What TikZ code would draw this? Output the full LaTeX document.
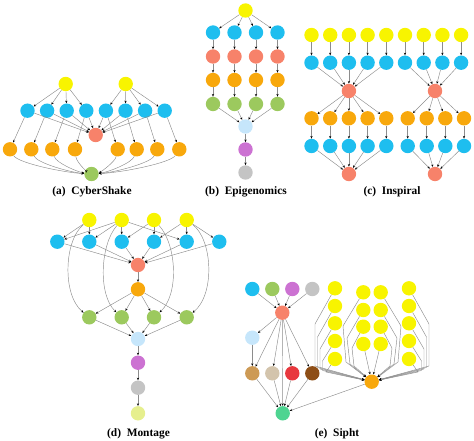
\documentclass[tikz,border=0pt]{standalone}
\usepackage{fontspec}
\setmainfont{Liberation Serif}
\usetikzlibrary{arrows.meta}
\definecolor{cY}{HTML}{F8F400}
\definecolor{cB}{HTML}{1EBEEF}
\definecolor{cR}{HTML}{F7826A}
\definecolor{cO}{HTML}{F8A80C}
\definecolor{cG}{HTML}{9CC95E}
\definecolor{cL}{HTML}{C6E6FB}
\definecolor{cP}{HTML}{CC72D2}
\definecolor{cS}{HTML}{C4C4C4}
\definecolor{cW}{HTML}{E6EF8E}
\definecolor{cT}{HTML}{CD9A55}
\definecolor{cE}{HTML}{D3C4AC}
\definecolor{cX}{HTML}{E8383E}
\definecolor{cN}{HTML}{8E4E16}
\definecolor{cQ}{HTML}{4ED491}
\definecolor{edgec}{HTML}{8C8C8C}
\tikzset{
  nd/.style={circle,inner sep=0pt,minimum size=14.4pt,draw=none},
  ny/.style={nd,fill=cY}, nb/.style={nd,fill=cB}, nr/.style={nd,fill=cR},
  no/.style={nd,fill=cO}, ng/.style={nd,fill=cG}, nl/.style={nd,fill=cL},
  np/.style={nd,fill=cP}, ns/.style={nd,fill=cS}, nw/.style={nd,fill=cW},
  nt/.style={nd,fill=cT}, ne/.style={nd,fill=cE}, nx/.style={nd,fill=cX},
  nn/.style={nd,fill=cN}, nq/.style={nd,fill=cQ},
  ed/.style={draw=edgec,line width=0.45pt,-{Stealth[length=2.6pt,width=2.2pt,color=black]}},
  captext/.style={font=\bfseries\fontsize{11.4}{13}\selectfont,inner sep=0pt}
}
\begin{document}
\begin{tikzpicture}[x=1pt,y=-1pt]
\useasboundingbox (0,0) rectangle (474,441);
% ---------------- (a) CyberShake
\node[ny] (a-y1) at (65.7,84) {};
\node[ny] (a-y2) at (125.7,84) {};
\foreach \i/\x in {1/27.5,2/47.1,3/66.7,4/86.3,5/105.9,6/125.5,7/145.1,8/164.7}
  \node[nb] (a-b\i) at (\x,110.7) {};
\node[nr] (a-r) at (95.7,135) {};
\foreach \i/\x in {1/10,2/31.3,3/52.3,4/75,5/117.7,6/136.7,7/157.3,8/179.3}
  \node[no] (a-o\i) at (\x,149.3) {};
\node[ng] (a-g) at (91.5,174) {};
\foreach \i in {1,...,4} \draw[ed] (a-y1) -- (a-b\i);
\foreach \i in {5,...,8} \draw[ed] (a-y2) -- (a-b\i);
\foreach \i in {1,...,8} {
  \draw[ed] (a-b\i) -- (a-r);
  \draw[ed] (a-b\i) -- (a-o\i);
}
\foreach \i/\ca/\cb/\da/\db in {1/18/163/63/172.5,2/37/163/70.5/172.5,3/56/163/78/172,4/76.5/162/86/171,
  5/115/162/100.7/172,6/132/163/107.3/172.5,7/150.7/163/114.5/172.5,8/170.5/163/122.2/172.5}
  \draw[ed] (a-o\i) .. controls (\ca,\cb) and (\da,\db) .. (a-g);
\node[captext] (a-cap) at (92,192) {(a)\hspace{0.5em}CyberShake};
% ---------------- (b) Epigenomics
\node[ny] (b-y) at (245.5,10.5) {};
\foreach \i/\x in {1/213,2/234.5,3/256,4/277.5} {
  \node[nb] (b-b\i) at (\x,32.5) {};
  \node[nr] (b-r\i) at (\x,56.5) {};
  \node[no] (b-o\i) at (\x,80) {};
  \node[ng] (b-g\i) at (\x,104) {};
}
\node[nl] (b-l) at (245.5,126.5) {};
\node[np] (b-p) at (245.5,149.5) {};
\node[ns] (b-s) at (245.5,172.5) {};
\foreach \i in {1,...,4} {
  \draw[ed] (b-y) -- (b-b\i);
  \draw[ed] (b-b\i) -- (b-r\i);
  \draw[ed] (b-r\i) -- (b-o\i);
  \draw[ed] (b-o\i) -- (b-g\i);
  \draw[ed] (b-g\i) -- (b-l);
}
\draw[ed] (b-l) -- (b-p);
\draw[ed] (b-p) -- (b-s);
\node[captext] (b-cap) at (246,192) {(b)\hspace{0.5em}Epigenomics};
% ---------------- (c) Inspiral
\foreach \i/\x in {1/311.5,2/330.2,3/348.9,4/367.6,5/386.3,6/405,7/423.7,8/442.4,9/461.1} {
  \node[ny] (c-y\i) at (\x,35) {};
  \node[nb] (c-b\i) at (\x,62.7) {};
  \draw[ed] (c-y\i) -- (c-b\i);
}
\node[nr] (c-r1) at (348.9,91) {};
\node[nr] (c-r2) at (435,91) {};
\foreach \i in {1,...,5} \draw[ed] (c-b\i) -- (c-r1);
\foreach \i in {6,...,9} \draw[ed] (c-b\i) -- (c-r2);
\foreach \i/\x in {1/311.5,2/330.2,3/348.9,4/367.6,5/386.3,6/407.7,7/426.7,8/445.3,9/464} {
  \node[no] (c-o\i) at (\x,118.3) {};
  \node[nb] (c-c\i) at (\x,146) {};
  \draw[ed] (c-o\i) -- (c-c\i);
}
\node[nr] (c-r3) at (348.9,174) {};
\node[nr] (c-r4) at (435,174) {};
\foreach \i in {1,...,5} {\draw[ed] (c-r1) -- (c-o\i); \draw[ed] (c-c\i) -- (c-r3);}
\foreach \i in {6,...,9} {\draw[ed] (c-r2) -- (c-o\i); \draw[ed] (c-c\i) -- (c-r4);}
\node[captext] (c-cap) at (392,192) {(c)\hspace{0.5em}Inspiral};
% ---------------- (d) Montage
\foreach \i/\x in {1/89.3,2/121.7,3/154,4/186.7} {
  \node[ny] (d-y\i) at (\x,220) {};
  \node[ng] (d-g\i) at (\x,317.3) {};
}
\foreach \i/\x in {1/57.3,2/89.3,3/121.7,4/154,5/186.7,6/219.3}
  \node[nb] (d-b\i) at (\x,241.7) {};
\node[nr] (d-r) at (138,265) {};
\node[no] (d-o) at (138,289.3) {};
\node[nl] (d-l) at (138,339) {};
\node[np] (d-p) at (138,362.7) {};
\node[ns] (d-s) at (138,387.7) {};
\node[nw] (d-w) at (138,413.3) {};
\foreach \a/\b in {1/1,1/2,2/1,2/2,2/3,2/5,3/3,3/4,4/4,4/5,4/6}
  \draw[ed] (d-y\a) -- (d-b\b);
\foreach \i in {1,...,6} \draw[ed] (d-b\i) -- (d-r);
\draw[ed] (d-r) -- (d-o);
\foreach \i in {1,...,4} {\draw[ed] (d-o) -- (d-g\i); \draw[ed] (d-g\i) -- (d-l);}
\draw[ed] (d-y1) .. controls (64,240) and (62,295) .. (d-g1);
\draw[ed] (d-y2) .. controls (100,245) and (98,295) .. (d-g2);
\draw[ed] (d-y3) .. controls (177,245) and (179,295) .. (d-g3);
\draw[ed] (d-y4) .. controls (213,240) and (215,295) .. (d-g4);
\draw[ed] (d-l) -- (d-p);
\draw[ed] (d-p) -- (d-s);
\draw[ed] (d-s) -- (d-w);
\node[captext] (d-cap) at (138.5,434) {(d)\hspace{0.5em}Montage};
% ---------------- (e) Sipht
\node[nb] (e-t1) at (252.3,289) {};
\node[ng] (e-t2) at (272.3,289) {};
\node[np] (e-t3) at (292.3,289) {};
\node[ns] (e-t4) at (312.3,289) {};
\node[nr] (e-r) at (282.3,312.7) {};
\node[nl] (e-l) at (252.3,337.7) {};
\node[nt] (e-m1) at (252.3,373.3) {};
\node[ne] (e-m2) at (272.3,373.3) {};
\node[nx] (e-m3) at (292.3,373.3) {};
\node[nn] (e-m4) at (312.3,373.3) {};
\node[nq] (e-q) at (282.7,413.3) {};
\node[no] (e-o) at (371.7,381.7) {};
\foreach \i in {1,...,4} {\draw[ed] (e-t\i) -- (e-r); \draw[ed] (e-r) -- (e-m\i); \draw[ed] (e-m\i) -- (e-q);}
\draw[ed] (e-r) -- (e-l);
\draw[ed] (e-l) -- (e-m1);
\draw[ed] (e-r) -- (e-q);
\draw[ed] (e-o) -- (e-q);
% yellow columns
\foreach \k/\y in {1/288.3,2/306,3/323.3,4/341,5/359} {
  \node[ny] (e-a\k) at (335,\y) {};
  \node[ny] (e-d\k) at (409,\y) {};
}
\foreach \k/\y in {1/292.3,2/310,3/326.7,4/344} {
  \node[ny] (e-b\k) at (363.3,\y) {};
  \node[ny] (e-c\k) at (380.7,\y) {};
}
\draw[ed] (e-a1) -- (315,324) -- (315,366) -- (e-o);
\draw[ed] (e-a2) -- (317.5,337) -- (317.5,367.5) -- (e-o);
\draw[ed] (e-a3) -- (320,349) -- (320,369) -- (e-o);
\draw[ed] (e-a4) -- (322.5,361) -- (322.5,370.5) -- (e-o);
\draw[ed] (e-a5) -- (326,372) -- (e-o);
\draw[ed] (e-d1) -- (429,324) -- (429,366) -- (e-o);
\draw[ed] (e-d2) -- (426.5,337) -- (426.5,367.5) -- (e-o);
\draw[ed] (e-d3) -- (424,349) -- (424,369) -- (e-o);
\draw[ed] (e-d4) -- (421.5,361) -- (421.5,370.5) -- (e-o);
\draw[ed] (e-d5) -- (418,372) -- (e-o);
\draw[ed] (e-b1) -- (343,326) -- (346,362) -- (e-o);
\draw[ed] (e-b2) -- (347,338) -- (350,364) -- (e-o);
\draw[ed] (e-b3) -- (352,348) -- (354,366) -- (e-o);
\draw[ed] (e-b4) -- (e-o);
\draw[ed] (e-c1) -- (401,326) -- (398,362) -- (e-o);
\draw[ed] (e-c2) -- (397,338) -- (394,364) -- (e-o);
\draw[ed] (e-c3) -- (392,348) -- (390,366) -- (e-o);
\draw[ed] (e-c4) -- (e-o);
\node[captext] (e-cap) at (337,434) {(e)\hspace{0.5em}Sipht};
\end{tikzpicture}
\end{document}
